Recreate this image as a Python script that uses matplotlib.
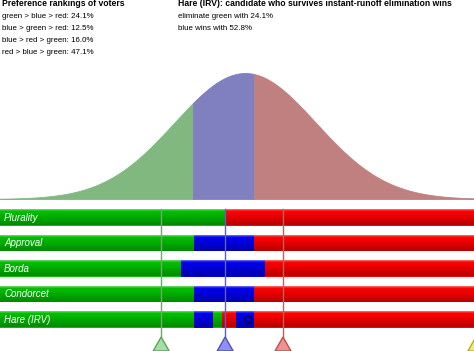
import numpy as np
import matplotlib.pyplot as plt
from matplotlib.patches import Polygon, Rectangle

plt.rcParams['font.family'] = ['Liberation Sans', 'DejaVu Sans']

# voter distribution along the spectrum (0..100)
voterMean = 51.7
voterSigma = 14.9
regionEdges = [0, 40.7, 53.6, 100]
regionColors = ['#80b880', '#8080c0', '#c08080']

rankingTitle = 'Preference rankings of voters'
rankings = ['green > blue > red: 24.1%',
            'blue > green > red: 12.5%',
            'blue > red > green: 16.0%',
            'red > blue > green: 47.1%']
hareTitle = 'Hare (IRV): candidate who survives instant-runoff elimination wins'
hareLines = ['eliminate green with 24.1%', 'blue wins with 52.8%']

methods = ['Plurality', 'Approval', 'Borda', 'Condorcet', 'Hare (IRV)']
winEdges = [
	[0, 47.5, 100],
	[0, 40.9, 53.6, 100],
	[0, 38.2, 55.9, 100],
	[0, 40.9, 53.6, 100],
	[0, 40.9, 44.9, 46.8, 49.8, 53.6, 100],
]
winners = [
	['green', 'red'],
	['green', 'blue', 'red'],
	['green', 'blue', 'red'],
	['green', 'blue', 'red'],
	['green', 'blue', 'green', 'red', 'blue', 'red'],
]
hareMarkX = 52.3

candidates = ['green', 'blue', 'red', 'yellow']
candX = [34.0, 47.5, 59.7, 100.4]

barColor = {'green': '#00c000', 'blue': '#0000f0', 'red': '#ff0000'}
lineColor = {'green': '#70a870', 'blue': '#6060c0', 'red': '#c06060', 'yellow': '#c0c040'}
triFill = {'green': '#a0e0a0', 'blue': '#9090f0', 'red': '#f09090', 'yellow': '#f0f060'}
triEdge = {'green': '#60a060', 'blue': '#5050c0', 'red': '#c05050', 'yellow': '#b0b020'}

W, H = 474, 351
px = 100.0 / W  # one pixel in spectrum units

fig = plt.figure(figsize=(4.74, 3.51), dpi=100)
ax = fig.add_axes([0, 0, 1, 1])
ax.set_xlim(0, 100)
ax.set_ylim(H, 0)
ax.axis('off')

# distribution curve
baseY = 199
peakH = 126
for i in range(3):
	xs = np.linspace(regionEdges[i], regionEdges[i + 1], 300)
	ys = baseY - peakH * np.exp(-0.5 * ((xs - voterMean) / voterSigma) ** 2)
	ax.fill_between(xs, ys, baseY, facecolor=regionColors[i], edgecolor=regionColors[i], lw=0.6)

# texts
fs = 5.7
ax.text(2 * px, 5.5, rankingTitle, fontsize=6.2, fontweight='bold', va='baseline')
for i, s in enumerate(rankings):
	ax.text(2 * px, 17.5 + i * 12.3, s, fontsize=fs, va='baseline')
ax.text(178 * px, 5.5, hareTitle, fontsize=6.2, fontweight='bold', va='baseline')
for i, s in enumerate(hareLines):
	ax.text(178 * px, 17.5 + i * 12.3, s, fontsize=fs, va='baseline')

# method bars
rowTop = [209, 234.5, 260, 285.5, 311]
barH = 16.5
shade = np.zeros((40, 1, 4))
t = np.linspace(0, 1, 40)
shade[:, 0, :3] = np.where(t < 0.2, 1.0, 0.0)[:, None]
shade[:, 0, 3] = np.where(t < 0.08, 0.45, np.where(t < 0.2, 0.15, 0.28 * (t - 0.2) / 0.8))
for r, name in enumerate(methods):
	y0 = rowTop[r]
	e = winEdges[r]
	for k, c in enumerate(winners[r]):
		ax.add_patch(Rectangle((e[k], y0), e[k + 1] - e[k], barH, color=barColor[c], lw=0))
	ax.imshow(shade, extent=(0, 100, y0 + barH, y0), aspect='auto', interpolation='bilinear', zorder=2)
	ax.text(4 * px, y0 + barH / 2 + 0.5, name, fontsize=7, style='italic', color='white',
			va='center', zorder=3)
ax.plot([hareMarkX], [rowTop[4] + barH / 2], 'o', ms=5, mfc='none', mec='#000060', mew=1.2, zorder=3)
ax.set_xlim(0, 100)
ax.set_ylim(H, 0)

# candidate positions
for c, x in zip(candidates, candX):
	ax.plot([x, x], [209, 337], color=lineColor[c], lw=1, zorder=4)
	tri = Polygon([(x, 337), (x - 8 * px, 351), (x + 8 * px, 351)], closed=True,
				  fc=triFill[c], ec=triEdge[c], lw=1, zorder=5)
	ax.add_patch(tri)

fig.savefig('out.png', dpi=100)
